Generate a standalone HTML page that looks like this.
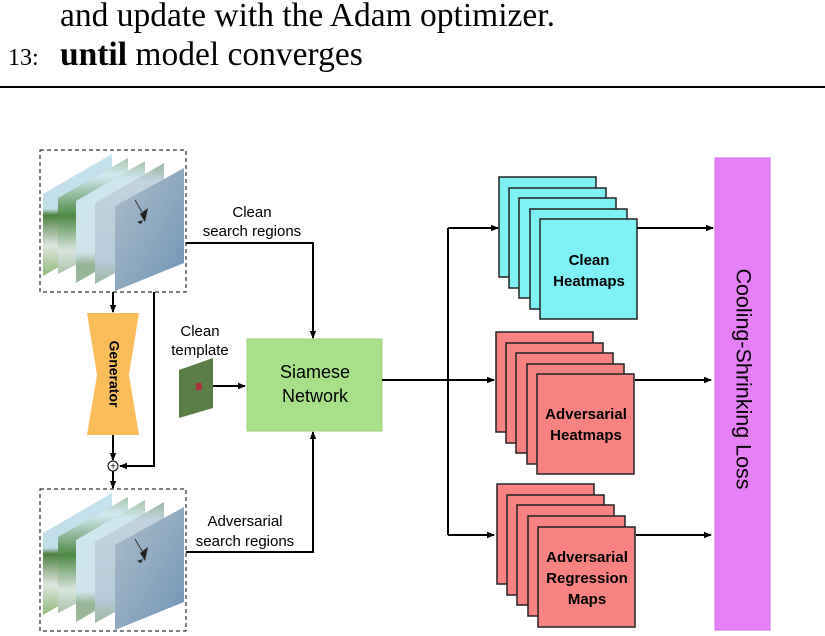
<!DOCTYPE html>
<html><head><meta charset="utf-8"><style>
html,body{margin:0;padding:0;background:#fff;}
svg{display:block;}
.s{font-family:"Liberation Serif",serif;}
.a{font-family:"Liberation Sans","DejaVu Sans",sans-serif;}
</style></head><body>
<svg width="825" height="636" viewBox="0 0 825 636" xmlns="http://www.w3.org/2000/svg">
<defs>
<marker id="ar" markerWidth="8" markerHeight="8" refX="7" refY="4" orient="auto" markerUnits="userSpaceOnUse">
<path d="M0,0.8 L8,4 L0,7.2 Z" fill="#000"/></marker>
<linearGradient id="g1" x1="0" y1="0" x2="0" y2="1"><stop offset="0" stop-color="#c5e2ee"/><stop offset="0.45" stop-color="#c0dde8"/><stop offset="0.5" stop-color="#4d8040"/><stop offset="0.75" stop-color="#dfe6e0"/><stop offset="1" stop-color="#8fb878"/></linearGradient>
<linearGradient id="g2" x1="0" y1="0" x2="0" y2="1"><stop offset="0" stop-color="#a8c4a8"/><stop offset="0.15" stop-color="#d3e9f2"/><stop offset="0.5" stop-color="#4f8a46"/><stop offset="0.8" stop-color="#d8e4dc"/><stop offset="1" stop-color="#a9c3ab"/></linearGradient>
<linearGradient id="g3" x1="0" y1="0" x2="0" y2="1"><stop offset="0" stop-color="#a7c3a6"/><stop offset="0.15" stop-color="#cfe6ef"/><stop offset="0.75" stop-color="#cfe4ea"/><stop offset="0.85" stop-color="#97b496"/><stop offset="1" stop-color="#9db89d"/></linearGradient>
<linearGradient id="g4" x1="0" y1="0" x2="0" y2="1"><stop offset="0" stop-color="#9cb9a0"/><stop offset="0.15" stop-color="#c2d3de"/><stop offset="0.8" stop-color="#b7cbd8"/><stop offset="1" stop-color="#9fb9a4"/></linearGradient>
<linearGradient id="g5" x1="0" y1="0" x2="1" y2="1"><stop offset="0" stop-color="#aebfcc"/><stop offset="0.5" stop-color="#8fa9bf"/><stop offset="1" stop-color="#6f93b5"/></linearGradient>
<g id="stack">
<polygon points="43,194 112,154 112,236 43,276" fill="url(#g1)"/>
<polygon points="58,198 128,158 128,238 58,274" fill="url(#g2)"/>
<polygon points="76,201 145,161 145,243 76,283" fill="url(#g3)"/>
<polygon points="95,203 164,163 164,246 95,284" fill="url(#g4)"/>
<polygon points="115,206 184,168 184,263 115,291" fill="url(#g5)"/>
<path d="M140,214 L148,208 L145,222 Z M137,222 l6,-2 l-2,4 z" fill="#222"/>
<line x1="142" y1="212" x2="135" y2="200" stroke="#333" stroke-width="1"/>
</g>
</defs>

<text class="s" x="60" y="26" font-size="33.5">and update with the Adam optimizer.</text>
<text class="s" x="8" y="65" font-size="24">13:</text>
<text class="s" x="60" y="65" font-size="33.5"><tspan font-weight="bold">until</tspan> model converges</text>
<rect x="0" y="86" width="825" height="2" fill="#000"/>

<use href="#stack"/>
<use href="#stack" transform="translate(0,339)"/>
<rect x="40" y="150" width="146" height="142" fill="none" stroke="#000" stroke-width="1" stroke-dasharray="4,3"/>
<rect x="40" y="489" width="146" height="142" fill="none" stroke="#000" stroke-width="1" stroke-dasharray="4,3"/>

<polygon points="87,313 139,313 129,375 139,435 87,435 97,375" fill="#fbbd59"/>
<text class="a" x="113" y="374" font-size="14" font-weight="bold" text-anchor="middle" dominant-baseline="middle" transform="rotate(90 113 374)">Generator</text>
<line x1="113" y1="292" x2="113" y2="312" stroke="#000" stroke-width="2" marker-end="url(#ar)"/>
<line x1="113" y1="435" x2="113" y2="460" stroke="#000" stroke-width="2" marker-end="url(#ar)"/>
<polyline points="154,292 154,466 120,466" fill="none" stroke="#000" stroke-width="2" marker-end="url(#ar)"/>
<circle cx="113" cy="466" r="5" fill="#fff" stroke="#000" stroke-width="1"/>
<text x="113" y="469.5" font-size="10" text-anchor="middle" class="a">+</text>
<line x1="113" y1="471" x2="113" y2="488" stroke="#000" stroke-width="2" marker-end="url(#ar)"/>

<polyline points="186,243 313,243 313,338" fill="none" stroke="#000" stroke-width="2" marker-end="url(#ar)"/>
<text class="a" x="252" y="217" font-size="15" text-anchor="middle">Clean</text>
<text class="a" x="252" y="236" font-size="15" text-anchor="middle">search regions</text>
<polyline points="186,552 313,552 313,432" fill="none" stroke="#000" stroke-width="2" marker-end="url(#ar)"/>
<text class="a" x="245" y="526" font-size="15" text-anchor="middle">Adversarial</text>
<text class="a" x="245" y="546" font-size="15" text-anchor="middle">search regions</text>

<text class="a" x="200" y="336" font-size="15" text-anchor="middle">Clean</text>
<text class="a" x="200" y="355" font-size="15" text-anchor="middle">template</text>
<polygon points="179,370 213,358 213,408 179,418" fill="#5a7e46"/>
<rect x="196" y="383" width="6" height="7" fill="#b03040"/>
<line x1="213" y1="386" x2="245" y2="386" stroke="#000" stroke-width="2" marker-end="url(#ar)"/>

<rect x="247" y="339" width="135" height="92" fill="#a8e08a" stroke="#9ccf80" stroke-width="1"/>
<text class="a" x="315" y="378" font-size="18" text-anchor="middle">Siamese</text>
<text class="a" x="315" y="402" font-size="18" text-anchor="middle">Network</text>

<line x1="382" y1="380" x2="448" y2="380" stroke="#000" stroke-width="2"/>
<line x1="448" y1="228" x2="448" y2="535" stroke="#000" stroke-width="2"/>
<line x1="448" y1="228" x2="498" y2="228" stroke="#000" stroke-width="2" marker-end="url(#ar)"/>
<line x1="448" y1="380" x2="494" y2="380" stroke="#000" stroke-width="2" marker-end="url(#ar)"/>
<line x1="448" y1="535" x2="494" y2="535" stroke="#000" stroke-width="2" marker-end="url(#ar)"/>

<g fill="#7ff0f4" stroke="#222" stroke-width="1.5">
<rect x="499" y="177" width="97" height="100"/>
<rect x="509" y="188" width="97" height="100"/>
<rect x="519" y="198" width="97" height="100"/>
<rect x="530" y="209" width="97" height="100"/>
<rect x="540" y="219" width="97" height="100"/>
</g>
<text class="a" x="589" y="265" font-size="15" font-weight="bold" text-anchor="middle">Clean</text>
<text class="a" x="589" y="286" font-size="15" font-weight="bold" text-anchor="middle">Heatmaps</text>

<g fill="#f98383" stroke="#222" stroke-width="1.5">
<rect x="496" y="332" width="97" height="100"/>
<rect x="506" y="343" width="97" height="100"/>
<rect x="516" y="353" width="97" height="100"/>
<rect x="527" y="364" width="97" height="100"/>
<rect x="537" y="374" width="97" height="100"/>
</g>
<text class="a" x="586" y="419" font-size="15" font-weight="bold" text-anchor="middle">Adversarial</text>
<text class="a" x="586" y="440" font-size="15" font-weight="bold" text-anchor="middle">Heatmaps</text>

<g fill="#f98383" stroke="#222" stroke-width="1.5">
<rect x="497" y="484" width="97" height="100"/>
<rect x="507" y="495" width="97" height="100"/>
<rect x="517" y="505" width="97" height="100"/>
<rect x="528" y="516" width="97" height="100"/>
<rect x="538" y="527" width="97" height="100"/>
</g>
<text class="a" x="587" y="562" font-size="15" font-weight="bold" text-anchor="middle">Adversarial</text>
<text class="a" x="587" y="583" font-size="15" font-weight="bold" text-anchor="middle">Regression</text>
<text class="a" x="587" y="604" font-size="15" font-weight="bold" text-anchor="middle">Maps</text>

<line x1="637" y1="228" x2="713" y2="228" stroke="#000" stroke-width="2" marker-end="url(#ar)"/>
<line x1="635" y1="380" x2="711" y2="380" stroke="#000" stroke-width="2" marker-end="url(#ar)"/>
<line x1="636" y1="535" x2="711" y2="535" stroke="#000" stroke-width="2" marker-end="url(#ar)"/>

<rect x="715" y="158" width="55" height="472" fill="#e680f8" stroke="#d070e8" stroke-width="1"/>
<text class="a" x="742" y="379" font-size="21.5" text-anchor="middle" dominant-baseline="middle" transform="rotate(90 742 379)">Cooling-Shrinking Loss</text>
</svg>
</body></html>
